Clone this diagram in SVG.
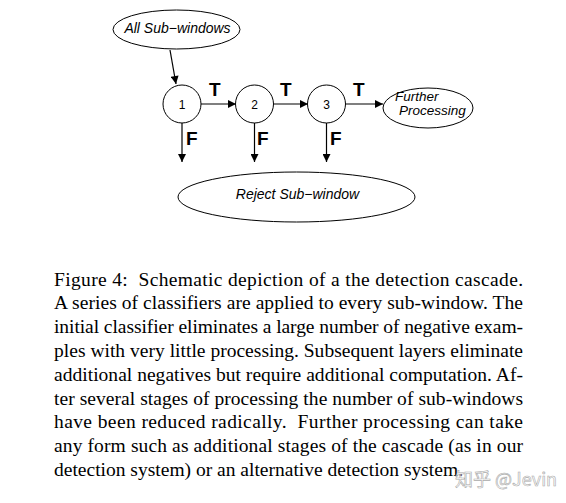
<svg xmlns="http://www.w3.org/2000/svg" width="566" height="503" viewBox="0 0 566 503">
<style>
.node{fill:#fff;stroke:#000;stroke-width:1}
.lbl{font-family:"Liberation Sans",Arial,sans-serif;font-style:italic;font-size:14px;fill:#000}
.num{font-family:"Liberation Sans",Arial,sans-serif;font-size:12px;fill:#000}
.tf{font-family:"Liberation Sans",Arial,sans-serif;font-weight:bold;font-size:19px;fill:#000}
.edge{stroke:#000;stroke-width:1.2;fill:none;marker-end:url(#ah)}
.cap{font-family:"Liberation Serif","Times New Roman",serif;font-size:19.5px;fill:#000}
</style>
<defs>
<marker id="ah" viewBox="0 0 10 10" refX="10" refY="5" markerWidth="10" markerHeight="8" markerUnits="userSpaceOnUse" orient="auto">
<path d="M0,0 L10,5 L0,10 z" fill="#000"/>
</marker>
</defs>
<rect width="566" height="503" fill="#fff"/>
<g id="connectors">
<path class="edge" d="M170,50 L176,84"/>
<path class="edge" d="M201,104 L236,104"/>
<path class="edge" d="M273.5,104 L308,104"/>
<path class="edge" d="M345.5,104 L383,104"/>
<path class="edge" d="M182,123 L182,162"/>
<path class="edge" d="M254.5,123 L254.5,162"/>
<path class="edge" d="M326.5,123 L326.5,162"/>
<text class="tf" x="209" y="96">T</text>
<text class="tf" x="280" y="96">T</text>
<text class="tf" x="353" y="96">T</text>
<text class="tf" x="186" y="145">F</text>
<text class="tf" x="257" y="145">F</text>
<text class="tf" x="330" y="145">F</text>
</g>
<g id="all-sub-windows">
<ellipse class="node" cx="176.5" cy="29.5" rx="63.5" ry="19.5"/>
<text class="lbl" x="177.5" y="33" text-anchor="middle">All Sub−windows</text>
</g>
<g id="stage1">
<circle class="node" cx="182" cy="104" r="19"/>
<text class="num" x="182" y="108.5" text-anchor="middle">1</text>
</g>
<g id="stage2">
<circle class="node" cx="254.5" cy="104" r="19"/>
<text class="num" x="254.5" y="108.5" text-anchor="middle">2</text>
</g>
<g id="stage3">
<circle class="node" cx="326.5" cy="104" r="19"/>
<text class="num" x="326.5" y="108.5" text-anchor="middle">3</text>
</g>
<g id="further-processing">
<ellipse class="node" cx="428" cy="108" rx="45" ry="20"/>
<text class="lbl" x="395" y="101" style="font-size:13.5px">Further</text>
<text class="lbl" x="399" y="115" style="font-size:13.5px">Processing</text>
</g>
<g id="reject-sub-window">
<ellipse class="node" cx="296.5" cy="197" rx="118.5" ry="25"/>
<text class="lbl" x="297.5" y="199" text-anchor="middle">Reject Sub−window</text>
</g>
<g id="caption">
<text class="cap" x="54" y="285.5" textLength="469" lengthAdjust="spacing" xml:space="preserve">Figure 4:  Schematic depiction of a the detection cascade.</text>
<text class="cap" x="54" y="309.3" textLength="469" lengthAdjust="spacing">A series of classifiers are applied to every sub-window. The</text>
<text class="cap" x="54" y="333.1" textLength="469" lengthAdjust="spacing">initial classifier eliminates a large number of negative exam-</text>
<text class="cap" x="54" y="356.9" textLength="469" lengthAdjust="spacing">ples with very little processing. Subsequent layers eliminate</text>
<text class="cap" x="54" y="380.7" textLength="469" lengthAdjust="spacing">additional negatives but require additional computation. Af-</text>
<text class="cap" x="54" y="404.5" textLength="469" lengthAdjust="spacing">ter several stages of processing the number of sub-windows</text>
<text class="cap" x="54" y="428.3" textLength="469" lengthAdjust="spacing" xml:space="preserve">have been reduced radically.  Further processing can take</text>
<text class="cap" x="54" y="452.1" textLength="469" lengthAdjust="spacing">any form such as additional stages of the cascade (as in our</text>
<text class="cap" x="54" y="475.9" textLength="409" lengthAdjust="spacing">detection system) or an alternative detection system.</text>
</g>
<g id="watermark">
<text x="455" y="486" font-family="'Noto Sans CJK SC','Liberation Sans',sans-serif" font-size="18" fill="#fff" fill-opacity="0.6" stroke="#aaa" stroke-width="0.6">知乎 @Jevin</text>
</g>
</svg>
